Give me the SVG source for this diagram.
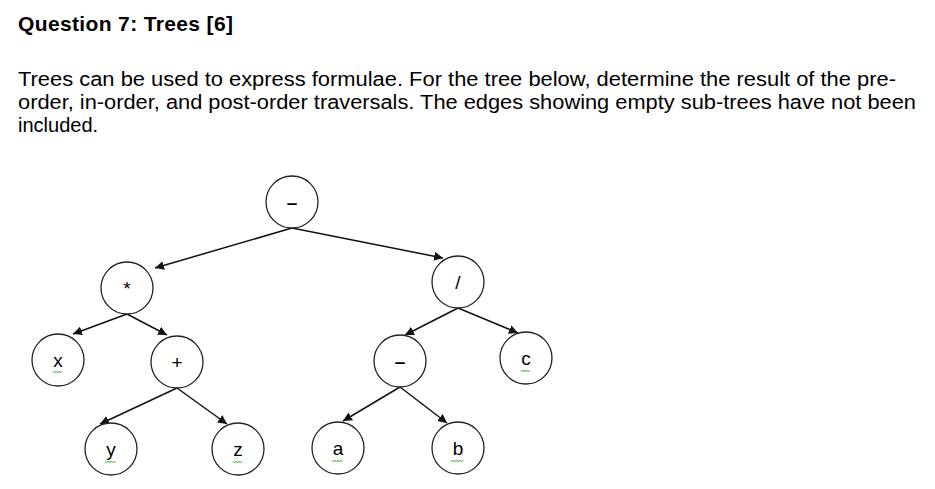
<svg xmlns="http://www.w3.org/2000/svg" width="935" height="489" viewBox="0 0 935 489">
<style>
text{font-family:"Liberation Sans",Arial,sans-serif;fill:#000}
.h{font-size:21px;font-weight:bold}
.p{font-size:20px}
.n circle{fill:#fff;stroke:#222;stroke-width:1.3}
.n text{font-size:19px;text-anchor:middle}
.w{fill:none;stroke:#3a3;stroke-width:0.8}
#edges line{stroke:#111;stroke-width:1.5;marker-end:url(#a)}
</style>
<defs><marker id="a" viewBox="0 0 10 10" refX="10" refY="5" markerWidth="9" markerHeight="9" markerUnits="userSpaceOnUse" orient="auto"><path d="M0,0L10,5L0,10z" fill="#111"/></marker></defs>
<rect width="935" height="489" fill="#fff"/>
<text class="h" x="18" y="31" textLength="215">Question 7: Trees [6]</text>
<text class="p" x="18" y="86" textLength="878" lengthAdjust="spacingAndGlyphs">Trees can be used to express formulae. For the tree below, determine the result of the pre-</text>
<text class="p" x="18" y="109" textLength="898" lengthAdjust="spacingAndGlyphs">order, in-order, and post-order traversals. The edges showing empty sub-trees have not been</text>
<text class="p" x="18" y="132">included.</text>
<g id="edges">
<line x1="292" y1="228" x2="155" y2="268"/>
<line x1="292" y1="228" x2="443" y2="258"/>
<line x1="127" y1="314" x2="73" y2="334"/>
<line x1="127" y1="314" x2="167" y2="335"/>
<line x1="458" y1="308" x2="405" y2="335"/>
<line x1="458" y1="308" x2="518" y2="333"/>
<line x1="177" y1="388" x2="100" y2="424"/>
<line x1="177" y1="388" x2="227" y2="424"/>
<line x1="400" y1="387" x2="343" y2="421"/>
<line x1="400" y1="387" x2="447" y2="423"/>
</g>
<g id="n-root" class="n"><circle cx="292" cy="202" r="26"/><text x="292" y="209" font-weight="bold">–</text></g>
<g id="n-mul" class="n"><circle cx="127" cy="288" r="26"/><text x="127" y="295">*</text></g>
<g id="n-div" class="n"><circle cx="458" cy="282" r="26"/><text x="458" y="289">/</text></g>
<g id="n-x" class="n"><circle cx="58" cy="360" r="26"/><text x="58" y="367">x</text><path class="w" d="M53,371l1.5,2l1.5,-2l1.5,2l1.5,-2l1.5,2l1.5,-2"/></g>
<g id="n-plus" class="n"><circle cx="177" cy="362" r="26"/><text x="177" y="369">+</text></g>
<g id="n-minus" class="n"><circle cx="400" cy="361" r="26"/><text x="400" y="368" font-weight="bold">–</text></g>
<g id="n-c" class="n"><circle cx="526" cy="358" r="26"/><text x="526" y="365">c</text><path class="w" d="M521,370l1.5,2l1.5,-2l1.5,2l1.5,-2l1.5,2l1.5,-2"/></g>
<g id="n-y" class="n"><circle cx="111" cy="449" r="26"/><text x="111" y="456">y</text><path class="w" d="M105,461l1.5,2l1.5,-2l1.5,2l1.5,-2l1.5,2l1.5,-2l1.5,2"/></g>
<g id="n-z" class="n"><circle cx="238" cy="449" r="26"/><text x="238" y="456">z</text><path class="w" d="M233,461l1.5,2l1.5,-2l1.5,2l1.5,-2l1.5,2l1.5,-2"/></g>
<g id="n-a" class="n"><circle cx="338" cy="448" r="26"/><text x="338" y="455">a</text><path class="w" d="M332,460l1.5,2l1.5,-2l1.5,2l1.5,-2l1.5,2l1.5,-2l1.5,2"/></g>
<g id="n-b" class="n"><circle cx="458" cy="448" r="26"/><text x="458" y="455">b</text><path class="w" d="M451,460l1.5,2l1.5,-2l1.5,2l1.5,-2l1.5,2l1.5,-2l1.5,2l1.5,-2"/></g>
</svg>
